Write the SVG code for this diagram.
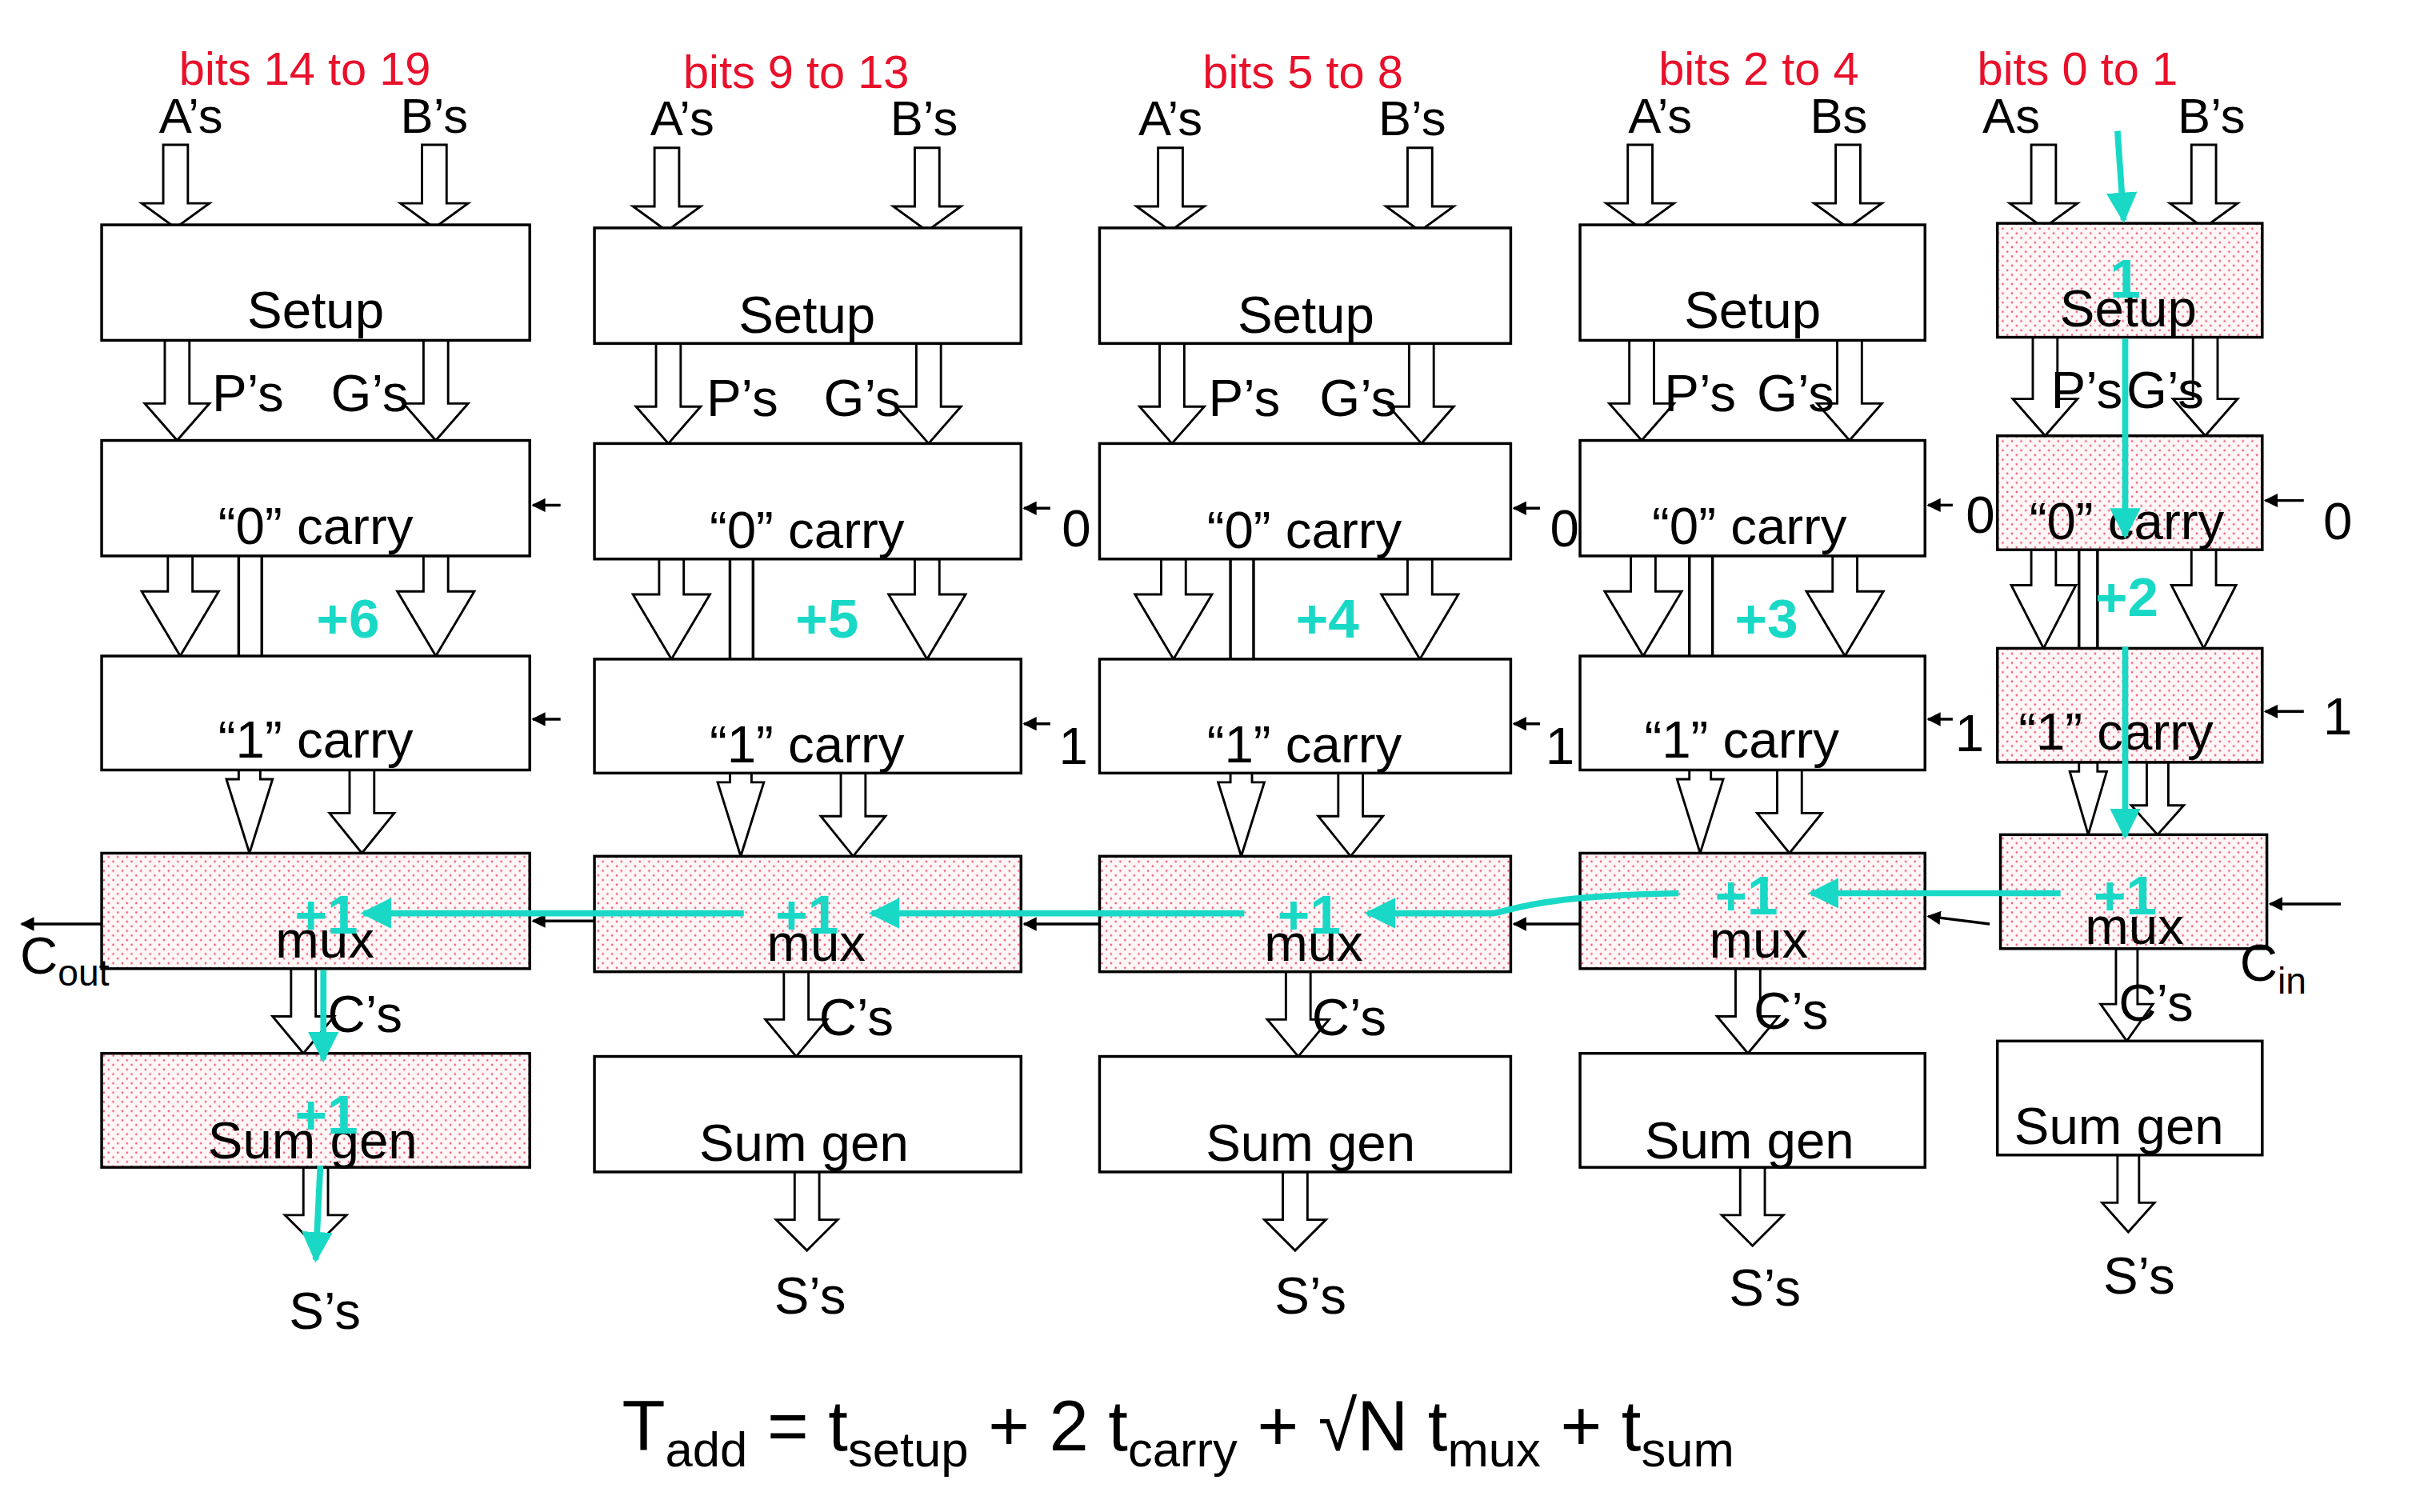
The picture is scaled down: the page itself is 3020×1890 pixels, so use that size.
<svg xmlns="http://www.w3.org/2000/svg" width="3020" height="1890" viewBox="0 0 3020 1890">
<style>
.t{font-family:"Liberation Sans",Arial,sans-serif;fill:#000;text-anchor:middle}
.bx{fill:#fff;stroke:#000;stroke-width:1.8}
.hl{fill:url(#dots);stroke:#000;stroke-width:1.8}
.ba{fill:#fff;stroke:#000;stroke-width:1.5}
.red{font-family:"Liberation Sans",Arial,sans-serif;fill:#e8102a;font-size:30px;text-anchor:middle}
.cy{font-family:"Liberation Sans",Arial,sans-serif;fill:#19d9c6;font-weight:bold;font-size:36px;text-anchor:middle}
.cl{stroke:#19d9c6;stroke-width:4;fill:none}
.bl{stroke:#000;stroke-width:1.8;fill:none}
</style>
<defs>
<pattern id="dots" width="6" height="6" patternUnits="userSpaceOnUse">
<rect width="6" height="6" fill="#fff7f7"/>
<circle cx="1.5" cy="1.5" r="0.7" fill="#f0607a"/>
<circle cx="4.5" cy="4.5" r="0.7" fill="#f0607a"/>
</pattern>
<marker id="ka" viewBox="0 0 10 10" refX="9" refY="5" markerWidth="5" markerHeight="5" orient="auto-start-reverse"><path d="M0,0 L10,5 L0,10 Z" fill="#000"/></marker>
<marker id="ca" viewBox="0 0 10 10" refX="9" refY="5" markerWidth="5" markerHeight="5" orient="auto-start-reverse"><path d="M0,0 L10,5 L0,10 Z" fill="#19d9c6"/></marker>
</defs>
<rect width="3020" height="1890" fill="#fff"/>
<g transform="scale(1.925)">
<g id="headers">
<text class="red" x="198" y="55">bits 14 to 19</text>
<text class="red" x="517" y="57">bits 9 to 13</text>
<text class="red" x="846" y="57">bits 5 to 8</text>
<text class="red" x="1142" y="55">bits 2 to 4</text>
<text class="red" x="1349" y="55">bits 0 to 1</text>
<g class="t" font-size="32">
<text x="124" y="86">A’s</text><text x="282" y="86">B’s</text>
<text x="443" y="88">A’s</text><text x="600" y="88">B’s</text>
<text x="760" y="88">A’s</text><text x="917" y="88">B’s</text>
<text x="1078" y="86">A’s</text><text x="1194" y="86">Bs</text>
<text x="1306" y="86">As</text><text x="1436" y="86">B’s</text>
</g>
</g>
<g id="connectors">
<g class="ba">
<path d="M106,94h16v38h14l-22,16l-22,-16h14z"/>
<path d="M274,94h16v38h14l-22,16l-22,-16h14z"/>
<path d="M425,96h16v38h14l-22,16l-22,-16h14z"/>
<path d="M594,96h16v38h14l-22,16l-22,-16h14z"/>
<path d="M752,96h16v38h14l-22,16l-22,-16h14z"/>
<path d="M914,96h16v38h14l-22,16l-22,-16h14z"/>
<path d="M1057,94h16v38h14l-22,16l-22,-16h14z"/>
<path d="M1192,94h16v38h14l-22,16l-22,-16h14z"/>
<path d="M1319,94h16v38h14l-22,16l-22,-16h14z"/>
<path d="M1423,94h16v38h14l-22,16l-22,-16h14z"/>
<path d="M107,221h16v41h13l-21,24l-21,-24h13z"/>
<path d="M275,221h16v41h13l-21,24l-21,-24h13z"/>
<path d="M426,223h16v41h13l-21,24l-21,-24h13z"/>
<path d="M595,223h16v41h13l-21,24l-21,-24h13z"/>
<path d="M753,223h16v41h13l-21,24l-21,-24h13z"/>
<path d="M915,223h16v41h13l-21,24l-21,-24h13z"/>
<path d="M1058,221h16v41h13l-21,24l-21,-24h13z"/>
<path d="M1193,221h16v41h13l-21,24l-21,-24h13z"/>
<path d="M1320,219h16v40h13l-21,24l-21,-24h13z"/>
<path d="M1424,219h16v40h13l-21,24l-21,-24h13z"/>
<path d="M109,361h16v23h17l-25,42l-25,-42h17z"/>
<path d="M275,361h16v23h17l-25,42l-25,-42h17z"/>
<path d="M428,363h16v23h17l-25,42l-25,-42h17z"/>
<path d="M594,363h16v23h17l-25,42l-25,-42h17z"/>
<path d="M754,363h16v23h17l-25,42l-25,-42h17z"/>
<path d="M914,363h16v23h17l-25,42l-25,-42h17z"/>
<path d="M1059,361h16v23h17l-25,42l-25,-42h17z"/>
<path d="M1190,361h16v23h17l-25,42l-25,-42h17z"/>
<path d="M1319,357h16v23h13l-21,41l-21,-41h13z"/>
<path d="M1423,357h16v23h13l-21,41l-21,-41h13z"/>
<path d="M155,500h14v6h8l-15,48l-15,-48h8z"/>
<path d="M227,500h16v28h13l-21,26l-21,-26h13z"/>
<path d="M474,502h14v6h8l-15,48l-15,-48h8z"/>
<path d="M546,502h16v28h13l-21,26l-21,-26h13z"/>
<path d="M799,502h14v6h8l-15,48l-15,-48h8z"/>
<path d="M869,502h16v28h13l-21,26l-21,-26h13z"/>
<path d="M1097,500h14v6h8l-15,48l-15,-48h8z"/>
<path d="M1154,500h16v28h13l-21,26l-21,-26h13z"/>
<path d="M1350,495h12v6h6l-12,41l-12,-41h6z"/>
<path d="M1394,495h14v28h10l-17,19l-17,-19h10z"/>
<path d="M189,629h16v31h12l-20,24l-20,-24h12z"/>
<path d="M509,631h16v31h12l-20,24l-20,-24h12z"/>
<path d="M835,631h16v31h12l-20,24l-20,-24h12z"/>
<path d="M1127,629h16v31h12l-20,24l-20,-24h12z"/>
<path d="M1374,616h14v36h10l-17,24l-17,-24h10z"/>
<path d="M197,758h16v31h12l-20,20l-20,-20h12z"/>
<path d="M516,761h16v31h12l-20,20l-20,-20h12z"/>
<path d="M833,761h16v31h12l-20,20l-20,-20h12z"/>
<path d="M1130,758h16v31h12l-20,20l-20,-20h12z"/>
<path d="M1375,750h14v31h10l-17,19l-17,-19h10z"/>
</g>
<g class="bl">
<line x1="155" y1="361" x2="155" y2="426"/><line x1="170" y1="361" x2="170" y2="426"/>
<line x1="474" y1="363" x2="474" y2="428"/><line x1="489" y1="363" x2="489" y2="428"/>
<line x1="799" y1="363" x2="799" y2="428"/><line x1="814" y1="363" x2="814" y2="428"/>
<line x1="1097" y1="361" x2="1097" y2="426"/><line x1="1112" y1="361" x2="1112" y2="426"/>
<line x1="1350" y1="357" x2="1350" y2="421"/><line x1="1362" y1="357" x2="1362" y2="421"/>
<g marker-end="url(#ka)">
<line x1="364" y1="328" x2="346" y2="328"/><line x1="364" y1="467" x2="346" y2="467"/>
<line x1="682" y1="330" x2="665" y2="330"/><line x1="682" y1="470" x2="665" y2="470"/>
<line x1="1000" y1="330" x2="983" y2="330"/><line x1="1000" y1="470" x2="983" y2="470"/>
<line x1="1268" y1="328" x2="1252" y2="328"/><line x1="1268" y1="467" x2="1252" y2="467"/>
<line x1="1496" y1="325" x2="1471" y2="325"/><line x1="1496" y1="462" x2="1471" y2="462"/>
<line x1="386" y1="598" x2="346" y2="598"/>
<line x1="714" y1="600" x2="665" y2="600"/>
<line x1="1026" y1="600" x2="983" y2="600"/>
<line x1="1292" y1="600" x2="1252" y2="595"/>
<line x1="1520" y1="587" x2="1474" y2="587"/>
<line x1="66" y1="600" x2="14" y2="600"/>
</g>
</g>
</g>
<g id="col1">
<rect class="bx" x="66" y="146" width="278" height="75"/>
<rect class="bx" x="66" y="286" width="278" height="75"/>
<rect class="bx" x="66" y="426" width="278" height="74"/>
<rect class="hl" x="66" y="554" width="278" height="75"/>
<rect class="hl" x="66" y="684" width="278" height="74"/>
</g>
<g id="col2">
<rect class="bx" x="386" y="148" width="277" height="75"/>
<rect class="bx" x="386" y="288" width="277" height="75"/>
<rect class="bx" x="386" y="428" width="277" height="74"/>
<rect class="hl" x="386" y="556" width="277" height="75"/>
<rect class="bx" x="386" y="686" width="277" height="75"/>
</g>
<g id="col3">
<rect class="bx" x="714" y="148" width="267" height="75"/>
<rect class="bx" x="714" y="288" width="267" height="75"/>
<rect class="bx" x="714" y="428" width="267" height="74"/>
<rect class="hl" x="714" y="556" width="267" height="75"/>
<rect class="bx" x="714" y="686" width="267" height="75"/>
</g>
<g id="col4">
<rect class="bx" x="1026" y="146" width="224" height="75"/>
<rect class="bx" x="1026" y="286" width="224" height="75"/>
<rect class="bx" x="1026" y="426" width="224" height="74"/>
<rect class="hl" x="1026" y="554" width="224" height="75"/>
<rect class="bx" x="1026" y="684" width="224" height="74"/>
</g>
<g id="col5">
<rect class="hl" x="1297" y="145" width="172" height="74"/>
<rect class="hl" x="1297" y="283" width="172" height="74"/>
<rect class="hl" x="1297" y="421" width="172" height="74"/>
<rect class="hl" x="1299" y="542" width="173" height="74"/>
<rect class="bx" x="1297" y="676" width="172" height="74"/>
</g>
<g class="t" font-size="34">
<text x="205" y="213">Setup</text><text x="524" y="216">Setup</text><text x="848" y="216">Setup</text><text x="1138" y="213">Setup</text><text x="1382" y="212">Setup</text>
<text x="205" y="353">“0” carry</text><text x="524" y="356">“0” carry</text><text x="847" y="356">“0” carry</text><text x="1136" y="353">“0” carry</text><text x="1381" y="350">“0” carry</text>
<text x="205" y="492">“1” carry</text><text x="524" y="495">“1” carry</text><text x="847" y="495">“1” carry</text><text x="1131" y="492">“1” carry</text><text x="1374" y="487">“1” carry</text>
<text x="211" y="622">mux</text><text x="530" y="624">mux</text><text x="853" y="624">mux</text><text x="1142" y="622">mux</text><text x="1386" y="613">mux</text>
<text x="203" y="752">Sum gen</text><text x="522" y="754">Sum gen</text><text x="851" y="754">Sum gen</text><text x="1136" y="752">Sum gen</text><text x="1376" y="743">Sum gen</text>
<text x="161" y="267">P’s</text><text x="240" y="267">G’s</text>
<text x="482" y="270">P’s</text><text x="560" y="270">G’s</text>
<text x="808" y="270">P’s</text><text x="882" y="270">G’s</text>
<text x="1104" y="267">P’s</text><text x="1166" y="267">G’s</text>
<text x="1355" y="265">P’s</text><text x="1406" y="265">G’s</text>
<text x="237" y="670">C’s</text><text x="556" y="672">C’s</text><text x="876" y="672">C’s</text><text x="1163" y="668">C’s</text><text x="1400" y="663">C’s</text>
<text x="211" y="863">S’s</text><text x="526" y="853">S’s</text><text x="851" y="853">S’s</text><text x="1146" y="848">S’s</text><text x="1389" y="840">S’s</text>
<text x="699" y="355">0</text><text x="1016" y="355">0</text><text x="1286" y="346">0</text><text x="1518" y="350">0</text>
<text x="697" y="496">1</text><text x="1013" y="496">1</text><text x="1279" y="488">1</text><text x="1518" y="477">1</text>
<text x="42" y="632">C<tspan font-size="24" dy="8">out</tspan></text>
<text x="1476" y="637">C<tspan font-size="24" dy="8">in</tspan></text>
</g>
<g id="critical-path" class="cl" marker-end="url(#ca)">
<path d="M1375,85 L1379,143"/>
<path d="M1380,220 L1380,348"/>
<path d="M1380,420 L1380,543"/>
<path d="M1338,580 L1176,580"/>
<path d="M1090,580 C1000,582 985,590 970,593 L888,593"/>
<path d="M808,593 L566,593"/>
<path d="M483,593 L236,593"/>
<path d="M210,630 L210,688"/>
<path d="M208,757 L205,818"/>
</g>
<g class="cy">
<text x="226" y="414">+6</text><text x="537" y="414">+5</text><text x="862" y="414">+4</text><text x="1147" y="414">+3</text><text x="1381" y="400">+2</text>
<text x="1380" y="193">1</text>
<text x="212" y="606">+1</text><text x="524" y="606">+1</text><text x="850" y="606">+1</text><text x="1134" y="594">+1</text><text x="1380" y="594">+1</text>
<text x="212" y="736">+1</text>
</g>
<text class="t" x="765" y="942" font-size="46">T<tspan font-size="32" dy="10">add</tspan><tspan dy="-10"> = t</tspan><tspan font-size="32" dy="10">setup</tspan><tspan dy="-10"> + 2 t</tspan><tspan font-size="32" dy="10">carry</tspan><tspan dy="-10"> + √N t</tspan><tspan font-size="32" dy="10">mux</tspan><tspan dy="-10"> + t</tspan><tspan font-size="32" dy="10">sum</tspan></text>
</g>
</svg>
